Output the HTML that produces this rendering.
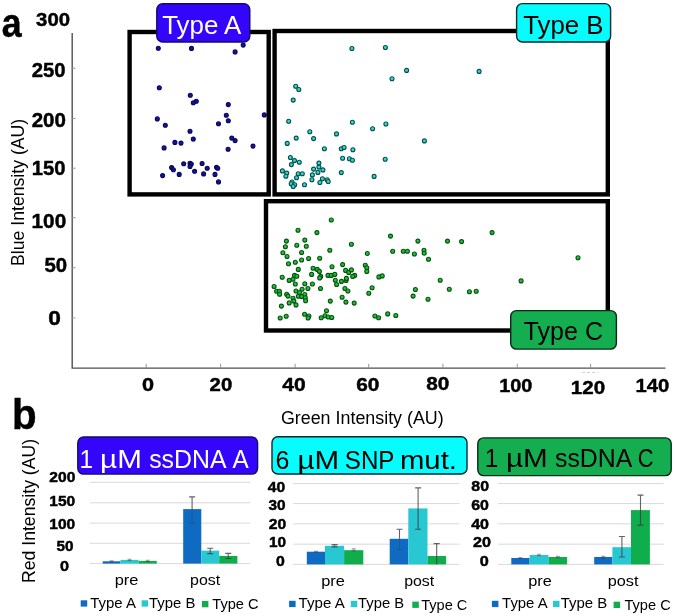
<!DOCTYPE html>
<html><head><meta charset="utf-8"><title>Figure</title>
<style>
html,body{margin:0;padding:0;background:#fff;}
svg{display:block;}
text{font-family:"Liberation Sans",sans-serif;}
</style></head><body>
<svg width="675" height="616" viewBox="0 0 675 616">
<rect width="675" height="616" fill="#fff"/>

<path d="M72.2 33V368.1H665.5" stroke="#505050" stroke-width="1.4" fill="none"/>
<g stroke="#8c8c8c" stroke-width="0.9" fill="none">
<path d="M72 68.2 h3.6"/>
<path d="M72 118.4 h3.6"/>
<path d="M72 168.2 h3.6"/>
<path d="M72 217.7 h3.6"/>
<path d="M72 267.8 h3.6"/>
<path d="M146.2 368 v-4.2"/>
<path d="M220.6 368 v-4.2"/>
<path d="M295.1 368 v-4.2"/>
<path d="M368.7 368 v-4.2"/>
<path d="M442.9 368 v-4.2"/>
<path d="M517.3 368 v-4.2"/>
<path d="M590.6 368 v-4.2"/>
</g>
<path d="M72 317.9h3.6" stroke="#9a9a9a" stroke-width="0.9"/>
<path d="M582 372.4h16" stroke="#c4c4c4" stroke-width="0.8" stroke-dasharray="3 2"/>
<g fill="#14149a" stroke="#06065a" stroke-width="1.1"><circle cx="158.3" cy="48.2" r="2"/><circle cx="191.5" cy="48.4" r="2"/><circle cx="235.1" cy="51.9" r="2"/><circle cx="243.2" cy="45.1" r="2"/><circle cx="159.3" cy="87.7" r="2"/><circle cx="190.3" cy="95.3" r="2"/><circle cx="196.3" cy="101.3" r="2"/><circle cx="193.3" cy="102.8" r="2"/><circle cx="228.3" cy="104.6" r="2"/><circle cx="264.3" cy="114.9" r="2"/><circle cx="226.3" cy="115.2" r="2"/><circle cx="228.3" cy="120.7" r="2"/><circle cx="218.5" cy="123.7" r="2"/><circle cx="157.3" cy="118.9" r="2"/><circle cx="165.3" cy="125.2" r="2"/><circle cx="190.0" cy="131.3" r="2"/><circle cx="193.3" cy="139.1" r="2"/><circle cx="174.9" cy="142.4" r="2"/><circle cx="181.0" cy="143.1" r="2"/><circle cx="164.1" cy="147.9" r="2"/><circle cx="231.8" cy="138.1" r="2"/><circle cx="235.1" cy="140.6" r="2"/><circle cx="228.1" cy="149.2" r="2"/><circle cx="253.0" cy="146.1" r="2"/><circle cx="183.7" cy="163.8" r="2"/><circle cx="190.0" cy="163.3" r="2"/><circle cx="191.3" cy="164.0" r="2"/><circle cx="190.0" cy="166.5" r="2"/><circle cx="202.1" cy="163.5" r="2"/><circle cx="207.2" cy="168.3" r="2"/><circle cx="216.5" cy="167.3" r="2"/><circle cx="217.7" cy="168.3" r="2"/><circle cx="171.6" cy="167.6" r="2"/><circle cx="173.4" cy="169.8" r="2"/><circle cx="179.2" cy="174.4" r="2"/><circle cx="162.6" cy="175.6" r="2"/><circle cx="194.6" cy="171.3" r="2"/><circle cx="203.6" cy="173.9" r="2"/><circle cx="215.0" cy="174.4" r="2"/><circle cx="218.5" cy="181.9" r="2"/></g>
<g fill="#2cdccc" stroke="#084c4c" stroke-width="1.1"><circle cx="406.6" cy="70.4" r="2"/><circle cx="392.0" cy="78.7" r="2"/><circle cx="295.7" cy="86.2" r="2"/><circle cx="298.8" cy="89.5" r="2"/><circle cx="293.2" cy="100.1" r="2"/><circle cx="288.7" cy="121.3" r="2"/><circle cx="352.4" cy="122.3" r="2"/><circle cx="385.9" cy="124.0" r="2"/><circle cx="372.6" cy="128.8" r="2"/><circle cx="309.8" cy="131.8" r="2"/><circle cx="336.5" cy="133.9" r="2"/><circle cx="296.2" cy="138.1" r="2"/><circle cx="313.6" cy="138.6" r="2"/><circle cx="287.2" cy="143.4" r="2"/><circle cx="424.4" cy="140.9" r="2"/><circle cx="324.4" cy="148.7" r="2"/><circle cx="341.3" cy="148.7" r="2"/><circle cx="344.1" cy="147.5" r="2"/><circle cx="352.9" cy="149.7" r="2"/><circle cx="290.4" cy="157.5" r="2"/><circle cx="294.5" cy="160.6" r="2"/><circle cx="299.3" cy="162.3" r="2"/><circle cx="291.4" cy="164.6" r="2"/><circle cx="342.6" cy="158.3" r="2"/><circle cx="349.4" cy="158.8" r="2"/><circle cx="352.4" cy="160.3" r="2"/><circle cx="385.2" cy="159.3" r="2"/><circle cx="318.9" cy="163.1" r="2"/><circle cx="318.9" cy="167.1" r="2"/><circle cx="313.6" cy="169.1" r="2"/><circle cx="322.9" cy="169.9" r="2"/><circle cx="317.9" cy="172.4" r="2"/><circle cx="282.4" cy="170.9" r="2"/><circle cx="286.7" cy="173.1" r="2"/><circle cx="285.9" cy="176.2" r="2"/><circle cx="298.2" cy="173.7" r="2"/><circle cx="302.3" cy="173.7" r="2"/><circle cx="296.5" cy="177.7" r="2"/><circle cx="312.4" cy="174.9" r="2"/><circle cx="311.9" cy="179.7" r="2"/><circle cx="341.3" cy="172.6" r="2"/><circle cx="374.1" cy="176.4" r="2"/><circle cx="322.4" cy="178.7" r="2"/><circle cx="327.2" cy="179.7" r="2"/><circle cx="328.2" cy="181.5" r="2"/><circle cx="319.9" cy="182.5" r="2"/><circle cx="304.5" cy="184.7" r="2"/><circle cx="292.0" cy="182.0" r="2"/><circle cx="291.2" cy="183.7" r="2"/><circle cx="294.7" cy="184.7" r="2"/><circle cx="293.2" cy="186.5" r="2"/><circle cx="351.9" cy="48.5" r="2"/><circle cx="385.4" cy="47.5" r="2"/><circle cx="479.1" cy="71.4" r="2"/></g>
<g fill="#1ec038" stroke="#085010" stroke-width="1.1"><circle cx="331.3" cy="220.0" r="2"/><circle cx="298.0" cy="230.3" r="2"/><circle cx="316.9" cy="232.6" r="2"/><circle cx="286.4" cy="241.1" r="2"/><circle cx="304.8" cy="240.1" r="2"/><circle cx="285.4" cy="246.7" r="2"/><circle cx="296.8" cy="245.2" r="2"/><circle cx="306.3" cy="246.2" r="2"/><circle cx="351.4" cy="244.2" r="2"/><circle cx="390.5" cy="236.1" r="2"/><circle cx="417.9" cy="241.1" r="2"/><circle cx="282.9" cy="252.7" r="2"/><circle cx="287.0" cy="256.5" r="2"/><circle cx="301.6" cy="252.5" r="2"/><circle cx="308.6" cy="258.5" r="2"/><circle cx="301.6" cy="260.0" r="2"/><circle cx="295.3" cy="262.3" r="2"/><circle cx="288.5" cy="263.8" r="2"/><circle cx="319.7" cy="258.3" r="2"/><circle cx="329.8" cy="250.2" r="2"/><circle cx="367.3" cy="253.5" r="2"/><circle cx="392.7" cy="251.2" r="2"/><circle cx="403.3" cy="251.2" r="2"/><circle cx="407.4" cy="251.2" r="2"/><circle cx="414.4" cy="254.0" r="2"/><circle cx="424.0" cy="250.2" r="2"/><circle cx="424.2" cy="253.2" r="2"/><circle cx="428.5" cy="259.3" r="2"/><circle cx="342.6" cy="264.6" r="2"/><circle cx="332.0" cy="266.8" r="2"/><circle cx="298.3" cy="269.4" r="2"/><circle cx="313.1" cy="268.3" r="2"/><circle cx="317.2" cy="269.4" r="2"/><circle cx="319.4" cy="271.4" r="2"/><circle cx="311.6" cy="274.4" r="2"/><circle cx="320.7" cy="276.4" r="2"/><circle cx="319.7" cy="277.9" r="2"/><circle cx="328.0" cy="275.4" r="2"/><circle cx="331.3" cy="275.4" r="2"/><circle cx="334.8" cy="274.4" r="2"/><circle cx="345.6" cy="270.4" r="2"/><circle cx="348.7" cy="272.4" r="2"/><circle cx="351.4" cy="269.9" r="2"/><circle cx="354.7" cy="275.4" r="2"/><circle cx="352.7" cy="276.4" r="2"/><circle cx="365.3" cy="265.3" r="2"/><circle cx="366.8" cy="267.8" r="2"/><circle cx="366.8" cy="271.4" r="2"/><circle cx="378.9" cy="276.9" r="2"/><circle cx="382.2" cy="275.9" r="2"/><circle cx="282.2" cy="277.2" r="2"/><circle cx="294.5" cy="275.4" r="2"/><circle cx="296.8" cy="276.2" r="2"/><circle cx="293.0" cy="279.2" r="2"/><circle cx="289.2" cy="280.4" r="2"/><circle cx="295.3" cy="284.0" r="2"/><circle cx="304.8" cy="283.7" r="2"/><circle cx="312.4" cy="284.0" r="2"/><circle cx="335.3" cy="280.2" r="2"/><circle cx="336.6" cy="284.5" r="2"/><circle cx="341.4" cy="281.4" r="2"/><circle cx="346.1" cy="280.4" r="2"/><circle cx="346.4" cy="278.4" r="2"/><circle cx="274.1" cy="286.5" r="2"/><circle cx="276.6" cy="291.3" r="2"/><circle cx="279.4" cy="291.3" r="2"/><circle cx="279.6" cy="294.3" r="2"/><circle cx="286.7" cy="294.3" r="2"/><circle cx="288.0" cy="296.1" r="2"/><circle cx="296.0" cy="291.0" r="2"/><circle cx="302.1" cy="289.3" r="2"/><circle cx="307.9" cy="288.5" r="2"/><circle cx="299.5" cy="292.5" r="2"/><circle cx="304.8" cy="294.5" r="2"/><circle cx="298.3" cy="296.3" r="2"/><circle cx="301.6" cy="296.6" r="2"/><circle cx="305.3" cy="297.8" r="2"/><circle cx="305.6" cy="300.8" r="2"/><circle cx="293.0" cy="298.3" r="2"/><circle cx="293.8" cy="301.1" r="2"/><circle cx="289.2" cy="302.9" r="2"/><circle cx="296.0" cy="304.9" r="2"/><circle cx="281.4" cy="306.1" r="2"/><circle cx="320.5" cy="288.5" r="2"/><circle cx="344.9" cy="288.5" r="2"/><circle cx="347.9" cy="291.0" r="2"/><circle cx="342.1" cy="297.3" r="2"/><circle cx="345.9" cy="302.1" r="2"/><circle cx="354.2" cy="303.1" r="2"/><circle cx="330.3" cy="301.1" r="2"/><circle cx="372.1" cy="287.7" r="2"/><circle cx="368.8" cy="293.3" r="2"/><circle cx="415.4" cy="289.5" r="2"/><circle cx="413.1" cy="296.1" r="2"/><circle cx="428.0" cy="299.3" r="2"/><circle cx="326.5" cy="310.7" r="2"/><circle cx="325.0" cy="315.7" r="2"/><circle cx="328.3" cy="317.0" r="2"/><circle cx="331.8" cy="317.5" r="2"/><circle cx="321.2" cy="317.7" r="2"/><circle cx="304.6" cy="314.2" r="2"/><circle cx="308.9" cy="316.0" r="2"/><circle cx="308.1" cy="318.0" r="2"/><circle cx="286.2" cy="316.2" r="2"/><circle cx="280.2" cy="318.0" r="2"/><circle cx="374.9" cy="316.0" r="2"/><circle cx="378.6" cy="317.7" r="2"/><circle cx="387.7" cy="313.9" r="2"/><circle cx="395.8" cy="315.5" r="2"/><circle cx="447.5" cy="241.1" r="2"/><circle cx="461.6" cy="241.6" r="2"/><circle cx="492.1" cy="232.6" r="2"/><circle cx="440.2" cy="280.2" r="2"/><circle cx="449.3" cy="289.3" r="2"/><circle cx="469.4" cy="291.8" r="2"/><circle cx="476.2" cy="291.3" r="2"/><circle cx="521.1" cy="280.9" r="2"/><circle cx="578.0" cy="257.8" r="2"/></g>
<g fill="none" stroke="#000" stroke-width="4.4">
<rect x="129.6" y="32" width="139.1" height="162.4"/>
<rect x="274.6" y="31" width="333.2" height="163.4"/>
<rect x="266" y="201.2" width="341.8" height="129.3"/>
</g>
<rect x="156.79999999999998" y="3.8000000000000003" width="93.0" height="38.2" rx="5.8" ry="5.8" fill="#3305fb" stroke="#120c6a" stroke-width="1.4"/>
<rect x="516.6" y="3.6" width="94.0" height="38.4" rx="5.8" ry="5.8" fill="#06fcfd" stroke="#08282c" stroke-width="1.4"/>
<rect x="510.70000000000005" y="310.6" width="105.7" height="38.5" rx="5.8" ry="5.8" fill="#14ae50" stroke="#062a14" stroke-width="1.4"/>
<rect x="77.8" y="437.0" width="179.8" height="37.1" rx="5.8" ry="5.8" fill="#3305fb" stroke="#120c6a" stroke-width="1.4"/>
<rect x="272.0" y="436.8" width="195.0" height="37.2" rx="5.8" ry="5.8" fill="#06fcfd" stroke="#08282c" stroke-width="1.4"/>
<rect x="477.8" y="437.90000000000003" width="193.4" height="37.7" rx="5.8" ry="5.8" fill="#14ae50" stroke="#062a14" stroke-width="1.4"/>
<g stroke="#d9d9d9" stroke-width="1"><path d="M89.8 482.3H250.2"/><path d="M89.8 502.8H250.2"/><path d="M89.8 523.1H250.2"/><path d="M89.8 543.3H250.2"/><path d="M89.8 563.6H250.2"/></g><rect x="102.7" y="561.3" width="17.8" height="2.3" fill="#0f6ac2"/><rect x="120.5" y="559.9" width="18.1" height="3.7" fill="#28c8d3"/><rect x="138.6" y="560.9" width="18.2" height="2.7" fill="#10ad4d"/><rect x="183.2" y="509.1" width="18.1" height="54.5" fill="#0f6ac2"/><rect x="201.3" y="550.6" width="17.9" height="13.0" fill="#28c8d3"/><rect x="219.2" y="555.9" width="18.2" height="7.7" fill="#10ad4d"/><g stroke="#3c3c3c" stroke-opacity="0.8" stroke-width="1.1" fill="none"><path d="M111.6 560.8V561.8M109.6 560.8h4M109.6 561.8h4" stroke-opacity="0.5"/><path d="M129.5 559.3V560.5M127.5 559.3h4M127.5 560.5h4" stroke-opacity="0.5"/><path d="M147.7 560.2V561.6M145.7 560.2h4M145.7 561.6h4" stroke-opacity="0.5"/><path d="M192.1 496.9V509.1M189.1 496.9h6"/><path d="M192.1 509.1V523.1M189.1 523.1h6" stroke-opacity="0.35"/><path d="M210.2 548.3V553.6M207.2 548.3h6M207.2 553.6h6"/><path d="M228.3 553.4V558.5M225.3 553.4h6M225.3 558.5h6"/></g>
<g stroke="#d9d9d9" stroke-width="1"><path d="M293.2 483.6H459.5"/><path d="M293.2 503.6H459.5"/><path d="M293.2 523.8H459.5"/><path d="M293.2 544.2H459.5"/><path d="M293.2 564.4H459.5"/></g><rect x="306.8" y="551.7" width="18.2" height="12.7" fill="#0f6ac2"/><rect x="325.0" y="545.8" width="19.1" height="18.6" fill="#28c8d3"/><rect x="344.1" y="550.2" width="19.2" height="14.2" fill="#10ad4d"/><rect x="389.7" y="538.8" width="18.6" height="25.6" fill="#0f6ac2"/><rect x="408.3" y="508.4" width="19.2" height="56.0" fill="#28c8d3"/><rect x="427.5" y="556" width="18.6" height="8.4" fill="#10ad4d"/><g stroke="#3c3c3c" stroke-opacity="0.8" stroke-width="1.1" fill="none"><path d="M315.9 551.2V552.2M313.9 551.2h4M313.9 552.2h4" stroke-opacity="0.5"/><path d="M334.6 544.6V546.9M331.6 544.6h6M331.6 546.9h6"/><path d="M353.7 548.9V551M351.7 548.9h4M351.7 551h4" stroke-opacity="0.5"/><path d="M399.5 529.3V538.8M396.5 529.3h6"/><path d="M399.5 538.8V549.5M396.5 549.5h6" stroke-opacity="0.35"/><path d="M418.1 487.9V529.3M415.1 487.9h6M415.1 529.3h6"/><path d="M436.7 543.6V564.4M433.7 543.6h6"/></g>
<g stroke="#d9d9d9" stroke-width="1"><path d="M498 483.6H663.6"/><path d="M498 503.6H663.6"/><path d="M498 523.8H663.6"/><path d="M498 544.2H663.6"/><path d="M498 564.4H663.6"/></g><rect x="511.3" y="558" width="18.3" height="6.4" fill="#0f6ac2"/><rect x="529.6" y="555" width="18.9" height="9.4" fill="#28c8d3"/><rect x="548.5" y="557" width="18.6" height="7.4" fill="#10ad4d"/><rect x="594.2" y="557" width="18.2" height="7.4" fill="#0f6ac2"/><rect x="612.4" y="547.2" width="18.6" height="17.2" fill="#28c8d3"/><rect x="631" y="510.1" width="18.9" height="54.3" fill="#10ad4d"/><g stroke="#3c3c3c" stroke-opacity="0.8" stroke-width="1.1" fill="none"><path d="M520.3 557.5V558.5M518.3 557.5h4M518.3 558.5h4" stroke-opacity="0.5"/><path d="M539 554.3V555.7M537 554.3h4M537 555.7h4" stroke-opacity="0.5"/><path d="M557.8 556.4V557.7M555.8 556.4h4M555.8 557.7h4" stroke-opacity="0.5"/><path d="M603.3 556.4V558.4M601.3 556.4h4M601.3 558.4h4" stroke-opacity="0.5"/><path d="M621.9 536.5V557M618.9 536.5h6M618.9 557h6"/><path d="M640.5 495.1V525.1M637.5 495.1h6M637.5 525.1h6"/></g>
<rect x="80.7" y="600.3" width="6.5" height="6.3" fill="#0f6ac2"/>
<rect x="141.6" y="600.3" width="6.5" height="6.3" fill="#28c8d3"/>
<rect x="201.9" y="601.0" width="6.5" height="6.3" fill="#10ad4d"/>
<rect x="289.1" y="600.8" width="6.5" height="6.3" fill="#0f6ac2"/>
<rect x="350.8" y="600.8" width="6.5" height="6.3" fill="#28c8d3"/>
<rect x="412.3" y="601.6" width="6.5" height="6.3" fill="#10ad4d"/>
<rect x="491.9" y="600.8" width="6.5" height="6.3" fill="#0f6ac2"/>
<rect x="553.0" y="600.8" width="6.5" height="6.3" fill="#28c8d3"/>
<rect x="613.6" y="601.7" width="6.5" height="6.3" fill="#10ad4d"/>
<text transform="translate(1.71,36.89) rotate(0.02) scale(0.8660,1)" font-size="41.27" font-weight="bold" stroke="#000" stroke-width="0.45" stroke-linejoin="round" fill="#000">a</text>
<text transform="translate(12.07,428.88) rotate(0.02) scale(0.9609,1)" font-size="42.04" font-weight="bold" stroke="#000" stroke-width="0.45" stroke-linejoin="round" fill="#000">b</text>
<text transform="translate(36.09,26.11) rotate(0.02) scale(1.0762,1)" font-size="18.87" font-weight="bold" stroke="#000" stroke-width="0.45" stroke-linejoin="round" fill="#000">300</text>
<text transform="translate(31.79,76.90) rotate(0.02) scale(1.0085,1)" font-size="20.14" font-weight="bold" stroke="#000" stroke-width="0.45" stroke-linejoin="round" fill="#000">250</text>
<text transform="translate(31.68,127.10) rotate(0.02) scale(1.0250,1)" font-size="20.00" font-weight="bold" stroke="#000" stroke-width="0.45" stroke-linejoin="round" fill="#000">200</text>
<text transform="translate(31.78,175.30) rotate(0.02) scale(1.0127,1)" font-size="20.00" font-weight="bold" stroke="#000" stroke-width="0.45" stroke-linejoin="round" fill="#000">150</text>
<text transform="translate(31.55,227.80) rotate(0.02) scale(1.0382,1)" font-size="20.00" font-weight="bold" stroke="#000" stroke-width="0.45" stroke-linejoin="round" fill="#000">100</text>
<text transform="translate(44.49,272.10) rotate(0.02) scale(1.0120,1)" font-size="20.14" font-weight="bold" stroke="#000" stroke-width="0.45" stroke-linejoin="round" fill="#000">50</text>
<text transform="translate(48.31,325.00) rotate(0.02) scale(1.1196,1)" font-size="20.28" font-weight="bold" stroke="#000" stroke-width="0.45" stroke-linejoin="round" fill="#000">0</text>
<text transform="translate(141.94,391.41) rotate(0.02) scale(1.1566,1)" font-size="18.73" font-weight="bold" stroke="#000" stroke-width="0.45" stroke-linejoin="round" fill="#000">0</text>
<text transform="translate(209.59,391.41) rotate(0.02) scale(1.0881,1)" font-size="18.73" font-weight="bold" stroke="#000" stroke-width="0.45" stroke-linejoin="round" fill="#000">20</text>
<text transform="translate(282.28,391.41) rotate(0.02) scale(1.1316,1)" font-size="18.59" font-weight="bold" stroke="#000" stroke-width="0.45" stroke-linejoin="round" fill="#000">40</text>
<text transform="translate(356.17,391.41) rotate(0.02) scale(1.1139,1)" font-size="18.73" font-weight="bold" stroke="#000" stroke-width="0.45" stroke-linejoin="round" fill="#000">60</text>
<text transform="translate(426.28,389.81) rotate(0.02) scale(1.1003,1)" font-size="18.87" font-weight="bold" stroke="#000" stroke-width="0.45" stroke-linejoin="round" fill="#000">80</text>
<text transform="translate(499.21,392.31) rotate(0.02) scale(1.0452,1)" font-size="19.01" font-weight="bold" stroke="#000" stroke-width="0.45" stroke-linejoin="round" fill="#000">100</text>
<text transform="translate(570.87,394.21) rotate(0.02) scale(1.0740,1)" font-size="19.15" font-weight="bold" stroke="#000" stroke-width="0.45" stroke-linejoin="round" fill="#000">120</text>
<text transform="translate(635.58,391.71) rotate(0.02) scale(1.0653,1)" font-size="19.01" font-weight="bold" stroke="#000" stroke-width="0.45" stroke-linejoin="round" fill="#000">140</text>
<text transform="translate(280.91,423.92) rotate(0.02) scale(0.9917,1)" font-size="18.03" fill="#000">Green Intensity (AU)</text>
<text transform="translate(23.90,265.91) rotate(-89.98) scale(0.9979,1)" font-size="17.68" fill="#000">Blue Intensity (AU)</text>
<text transform="translate(34.61,583.01) rotate(-89.98) scale(0.9811,1)" font-size="17.99" fill="#000">Red Intensity (AU)</text>
<text transform="translate(162.18,33.90) rotate(0.02) scale(0.9782,1)" font-size="26.47" fill="#fff">Type A</text>
<text transform="translate(523.18,34.40) rotate(0.02) scale(0.9970,1)" font-size="25.90" fill="#000">Type B</text>
<text transform="translate(523.60,339.60) rotate(0.02) scale(0.9473,1)" font-size="26.47" fill="#000">Type C</text>
<text transform="translate(49.33,482.25) rotate(0.02) scale(1.0771,1)" font-size="14.51" font-weight="bold" stroke="#000" stroke-width="0.45" stroke-linejoin="round" fill="#000">200</text>
<text transform="translate(49.27,505.95) rotate(0.02) scale(1.0610,1)" font-size="14.65" font-weight="bold" stroke="#000" stroke-width="0.45" stroke-linejoin="round" fill="#000">150</text>
<text transform="translate(49.27,528.75) rotate(0.02) scale(1.0713,1)" font-size="14.51" font-weight="bold" stroke="#000" stroke-width="0.45" stroke-linejoin="round" fill="#000">100</text>
<text transform="translate(56.54,550.55) rotate(0.02) scale(1.0554,1)" font-size="14.51" font-weight="bold" stroke="#000" stroke-width="0.45" stroke-linejoin="round" fill="#000">50</text>
<text transform="translate(59.93,570.56) rotate(0.02) scale(1.1311,1)" font-size="14.37" font-weight="bold" stroke="#000" stroke-width="0.45" stroke-linejoin="round" fill="#000">0</text>
<text transform="translate(267.77,491.85) rotate(0.02) scale(1.0795,1)" font-size="14.51" font-weight="bold" stroke="#000" stroke-width="0.45" stroke-linejoin="round" fill="#000">40</text>
<text transform="translate(268.59,510.06) rotate(0.02) scale(1.0689,1)" font-size="14.37" font-weight="bold" stroke="#000" stroke-width="0.45" stroke-linejoin="round" fill="#000">30</text>
<text transform="translate(268.83,528.56) rotate(0.02) scale(1.1032,1)" font-size="14.23" font-weight="bold" stroke="#000" stroke-width="0.45" stroke-linejoin="round" fill="#000">20</text>
<text transform="translate(268.98,546.96) rotate(0.02) scale(1.0804,1)" font-size="14.23" font-weight="bold" stroke="#000" stroke-width="0.45" stroke-linejoin="round" fill="#000">10</text>
<text transform="translate(275.95,566.36) rotate(0.02) scale(1.1130,1)" font-size="14.23" font-weight="bold" stroke="#000" stroke-width="0.45" stroke-linejoin="round" fill="#000">0</text>
<text transform="translate(471.32,491.06) rotate(0.02) scale(1.1167,1)" font-size="14.23" font-weight="bold" stroke="#000" stroke-width="0.45" stroke-linejoin="round" fill="#000">80</text>
<text transform="translate(471.24,510.26) rotate(0.02) scale(1.1220,1)" font-size="14.23" font-weight="bold" stroke="#000" stroke-width="0.45" stroke-linejoin="round" fill="#000">60</text>
<text transform="translate(471.16,528.56) rotate(0.02) scale(1.1274,1)" font-size="14.23" font-weight="bold" stroke="#000" stroke-width="0.45" stroke-linejoin="round" fill="#000">40</text>
<text transform="translate(473.01,546.76) rotate(0.02) scale(1.1257,1)" font-size="14.37" font-weight="bold" stroke="#000" stroke-width="0.45" stroke-linejoin="round" fill="#000">20</text>
<text transform="translate(479.83,566.36) rotate(0.02) scale(1.1423,1)" font-size="14.23" font-weight="bold" stroke="#000" stroke-width="0.45" stroke-linejoin="round" fill="#000">0</text>
<text transform="translate(114.73,585.00) rotate(0.02) scale(1.1301,1)" font-size="14.53" fill="#000">pre</text>
<text transform="translate(190.06,585.00) rotate(0.02) scale(1.0968,1)" font-size="14.53" fill="#000">post</text>
<text transform="translate(321.13,585.50) rotate(0.02) scale(1.1156,1)" font-size="14.72" fill="#000">pre</text>
<text transform="translate(404.16,585.50) rotate(0.02) scale(1.0827,1)" font-size="14.72" fill="#000">post</text>
<text transform="translate(528.14,585.50) rotate(0.02) scale(1.1105,1)" font-size="14.72" fill="#000">pre</text>
<text transform="translate(607.74,585.50) rotate(0.02) scale(1.1051,1)" font-size="14.72" fill="#000">post</text>
<text transform="translate(90.30,607.50) rotate(0.02) scale(0.9997,1)" font-size="14.96" fill="#000">Type A</text>
<text transform="translate(149.10,607.50) rotate(0.02) scale(0.9936,1)" font-size="14.96" fill="#000">Type B</text>
<text transform="translate(212.31,608.90) rotate(0.02) scale(0.9755,1)" font-size="14.96" fill="#000">Type C</text>
<text transform="translate(298.60,608.10) rotate(0.02) scale(0.9989,1)" font-size="15.11" fill="#000">Type A</text>
<text transform="translate(358.10,608.10) rotate(0.02) scale(0.9798,1)" font-size="15.11" fill="#000">Type B</text>
<text transform="translate(421.21,609.70) rotate(0.02) scale(0.9550,1)" font-size="15.25" fill="#000">Type C</text>
<text transform="translate(502.10,608.10) rotate(0.02) scale(0.9858,1)" font-size="15.11" fill="#000">Type A</text>
<text transform="translate(560.70,608.10) rotate(0.02) scale(0.9929,1)" font-size="15.11" fill="#000">Type B</text>
<text transform="translate(624.41,609.70) rotate(0.02) scale(0.9592,1)" font-size="15.25" fill="#000">Type C</text>
<text transform="translate(81.30,468.20) rotate(0.02)" font-size="25.80" fill="#fff"><tspan x="-1.83" textLength="13.55" lengthAdjust="spacingAndGlyphs">1</tspan> <tspan x="18.77" textLength="41.77" lengthAdjust="spacingAndGlyphs">µM</tspan> <tspan x="67.89" textLength="75.94" lengthAdjust="spacingAndGlyphs">ssDNA</tspan> <tspan x="151.10" textLength="16.25" lengthAdjust="spacingAndGlyphs">A</tspan></text>
<text transform="translate(276.80,468.54) rotate(0.02)" font-size="25.92" fill="#000"><tspan x="-1.25" textLength="13.87" lengthAdjust="spacingAndGlyphs">6</tspan> <tspan x="20.68" textLength="41.66" lengthAdjust="spacingAndGlyphs">µM</tspan> <tspan x="68.02" textLength="49.20" lengthAdjust="spacingAndGlyphs">SNP</tspan> <tspan x="123.20" textLength="56.93" lengthAdjust="spacingAndGlyphs">mut.</tspan></text>
<text transform="translate(486.60,467.40) rotate(0.02)" font-size="25.65" fill="#000"><tspan x="-1.83" textLength="13.55" lengthAdjust="spacingAndGlyphs">1</tspan> <tspan x="19.37" textLength="41.77" lengthAdjust="spacingAndGlyphs">µM</tspan> <tspan x="68.39" textLength="75.94" lengthAdjust="spacingAndGlyphs">ssDNA</tspan> <tspan x="151.21" textLength="15.81" lengthAdjust="spacingAndGlyphs">C</tspan></text>
</svg></body></html>
